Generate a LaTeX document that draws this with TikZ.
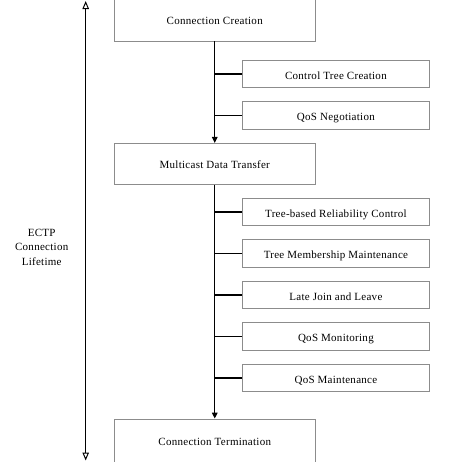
\documentclass[tikz,border=0pt]{standalone}
\usepackage{fontspec}
\setmainfont{Liberation Serif}[LetterSpace=2.5]
\usetikzlibrary{arrows.meta}
\begin{document}
\begin{tikzpicture}[x=1pt,y=-1pt,
  boxtext/.style={font=\fontsize{11}{13}\selectfont,text height=10.3pt,text depth=0pt,inner sep=0pt},
  mainbox/.style={boxtext,draw=black!45,line width=0.8pt,minimum width=200.5pt,minimum height=41pt},
  subbox/.style={boxtext,draw=black!45,line width=0.8pt,minimum width=186.3pt,minimum height=27.5pt},
  flow/.style={line width=1.4pt,-{Triangle[length=6pt,width=5.5pt]}},
  branch/.style={line width=1.4pt},
  life/.style={line width=1.4pt,{Triangle[open,length=8pt,width=6.5pt,line width=1pt]}-{Triangle[open,length=8pt,width=6.5pt,line width=1pt]}}]
\useasboundingbox (0,0) rectangle (474,461);
\node[mainbox,minimum height=43pt] (cc) at (214.75,19.5) {Connection Creation};
\node[mainbox] (mdt) at (214.75,163.8) {Multicast Data Transfer};
\node[mainbox,minimum height=43pt] (ct) at (214.75,440.5) {Connection Termination};
\node[subbox] (s1) at (335.9,74) {Control Tree Creation};
\node[subbox] (s2) at (335.9,115.5) {QoS Negotiation};
\node[subbox] (s3) at (335.9,212) {Tree-based Reliability Control};
\node[subbox] (s4) at (335.9,253.3) {Tree Membership Maintenance};
\node[subbox] (s5) at (335.9,295) {Late Join and Leave};
\node[subbox] (s6) at (335.9,336.2) {QoS Monitoring};
\node[subbox] (s7) at (335.9,377.9) {QoS Maintenance};
\draw[flow] (cc.south) -- (mdt.north);
\draw[flow] (mdt.south) -- (ct.north);
\foreach \s in {s1,s2} \draw[branch] (cc.south |- \s.west) -- (\s.west);
\foreach \s in {s3,s4,s5,s6,s7} \draw[branch] (mdt.south |- \s.west) -- (\s.west);
\coordinate (ltop) at (85.7,1);
\coordinate (lbot) at (85.7,460.5);
\draw[life] (ltop) -- (lbot);
\node[align=center,font=\fontsize{11}{14.5}\selectfont,inner sep=0pt] (lbl) at (41.7,247.2) {ECTP\\Connection\\Lifetime};
\end{tikzpicture}
\end{document}
